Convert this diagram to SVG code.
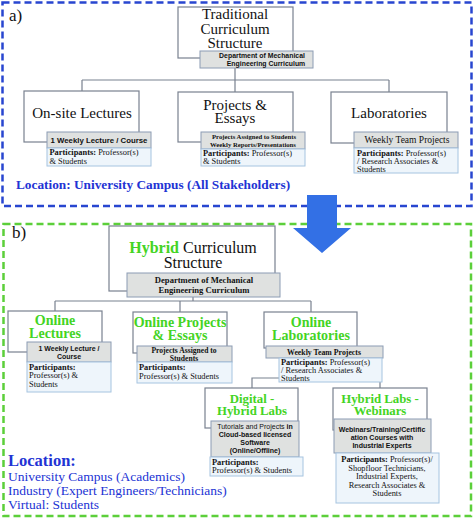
<svg xmlns="http://www.w3.org/2000/svg" width="474" height="519" viewBox="0 0 474 519">
<style>
.node{fill:#fff;stroke:#79818f;stroke-width:1.2}
.hdr{fill:#dfe1e0;stroke:#8c9cb4;stroke-width:1}
.body{fill:#eef5fb;stroke:#a6c4e0;stroke-width:1}
.conn{fill:none;stroke:#79818f;stroke-width:1.2}
.serif{font-family:"Liberation Serif","Times New Roman",serif;fill:#111}
.sans{font-family:"Liberation Sans",Arial,sans-serif;fill:#111}
.title{font-size:15px;text-anchor:middle}
.green{font-family:"Liberation Serif","Times New Roman",serif;font-weight:bold;fill:#44d424;text-anchor:middle}
.blue{font-family:"Liberation Serif","Times New Roman",serif;fill:#2233d4}
.small{font-size:8.4px}
.b{font-weight:bold}
.mid{text-anchor:middle}
</style>

<!-- Section a border -->
<rect x="2.5" y="2.5" width="469" height="203.5" fill="none" stroke="#2846d0" stroke-width="2.5" stroke-dasharray="7 4"/>
<!-- Section b border -->
<rect x="3.5" y="224" width="467.5" height="292" fill="none" stroke="#5ccf3a" stroke-width="2.5" stroke-dasharray="7 4"/>

<text class="serif" x="9" y="21" font-size="17">a)</text>
<text class="serif" x="12" y="238" font-size="17">b)</text>

<g id="connectors">
  <path class="conn" d="M235 68V80M82 80H389M82 80V91M235 80V92M389 80V92"/>
  <path class="conn" d="M193 297V301M55 301H311M55 301V311M180 301V312M311 301V312"/>
  <path class="conn" d="M252 388V378H380V388"/>
</g>

<!-- Section a nodes -->
<g id="traditional">
  <rect class="node" x="178" y="7" width="115" height="51"/>
  <text class="serif title" x="235" y="19">Traditional</text>
  <text class="serif title" x="235" y="34">Curriculum</text>
  <text class="serif title" x="235" y="48">Structure</text>
  <rect class="hdr" x="200" y="51" width="113" height="17"/>
  <text class="sans b mid" x="262" y="58.3" font-size="6.9">Department of Mechanical</text>
  <text class="sans b mid" x="266" y="66" font-size="6.9">Engineering Curriculum</text>
</g>

<g id="onsite-lectures">
  <rect class="node" x="24" y="91" width="115" height="51"/>
  <text class="serif title" x="82" y="118">On-site Lectures</text>
  <rect class="hdr" x="47" y="132" width="104" height="16"/>
  <text class="sans b mid" x="99" y="143" font-size="7.8">1 Weekly Lecture / Course</text>
  <rect class="body" x="47" y="148" width="104" height="18"/>
  <text class="serif small" x="49.5" y="155.3"><tspan class="b">Participants:</tspan> Professor(s)</text>
  <text class="serif small" x="49.5" y="163.7">&amp; Students</text>
</g>

<g id="projects-essays">
  <rect class="node" x="178" y="92" width="115" height="50"/>
  <text class="serif title" x="235" y="110">Projects &amp;</text>
  <text class="serif title" x="235" y="123">Essays</text>
  <rect class="hdr" x="201" y="132" width="104" height="17"/>
  <text class="serif b mid" x="254" y="139.3" font-size="6.7">Projects Assigned to Students</text>
  <text class="serif b mid" x="253" y="147" font-size="6.7">Weekly Reports/Presentations</text>
  <rect class="body" x="201" y="149" width="104" height="17"/>
  <text class="serif small" x="203" y="156"><tspan class="b">Participants:</tspan> Professor(s)</text>
  <text class="serif small" x="203" y="164.3">&amp; Students</text>
</g>

<g id="laboratories">
  <rect class="node" x="331" y="92" width="116" height="51"/>
  <text class="serif title" x="389" y="118" font-size="15.5">Laboratories</text>
  <rect class="hdr" x="354" y="132" width="104" height="16"/>
  <text class="serif mid" x="407" y="143" font-size="9.5">Weekly Team Projects</text>
  <rect class="body" x="354" y="148" width="104" height="25"/>
  <text class="serif small" x="357" y="155.5"><tspan class="b">Participants:</tspan> Professor(s)</text>
  <text class="serif small" x="357" y="163.6">/ Research Associates  &amp;</text>
  <text class="serif small" x="357" y="171.7">Students</text>
</g>

<text class="blue b" x="16" y="189" font-size="13.3">Location: University Campus (All Stakeholders)</text>

<!-- Arrow -->
<polygon points="307,195 337,195 337,228 351,228 322,253 293,228 307,228" fill="#3370e5"/>

<!-- Section b nodes -->
<g id="hybrid">
  <rect class="node" x="109" y="226" width="166" height="65"/>
  <text class="serif mid" x="193" y="253" font-size="16"><tspan class="b" fill="#44d424">Hybrid</tspan> Curriculum</text>
  <text class="serif mid" x="193" y="267.5" font-size="16">Structure</text>
  <rect class="hdr" x="127" y="273" width="153" height="24"/>
  <text class="serif b mid" x="204" y="283.3" font-size="8.6">Department of Mechanical</text>
  <text class="serif b mid" x="204" y="292.7" font-size="8.6">Engineering Curriculum</text>
</g>

<g id="online-lectures">
  <rect class="node" x="8" y="311" width="94" height="41"/>
  <text class="green" x="55" y="325" font-size="14">Online</text>
  <text class="green" x="55" y="337.5" font-size="14">Lectures</text>
  <rect class="hdr" x="27" y="342" width="84" height="20"/>
  <text class="sans b mid" x="69" y="350.5" font-size="7">1 Weekly Lecture /</text>
  <text class="sans b mid" x="69" y="358.7" font-size="7">Course</text>
  <rect class="body" x="27" y="362" width="84" height="30"/>
  <text class="serif small b" x="29" y="370">Participants:</text>
  <text class="serif small" x="29" y="378.3">Professor(s) &amp;</text>
  <text class="serif small" x="29" y="386.6">Students</text>
</g>

<g id="online-projects">
  <rect class="node" x="133" y="312" width="94" height="41"/>
  <text class="green" x="180" y="327" font-size="14">Online Projects</text>
  <text class="green" x="180" y="339.5" font-size="14">&amp; Essays</text>
  <rect class="hdr" x="137" y="346" width="95" height="16"/>
  <text class="serif b mid" x="184" y="353" font-size="7.6">Projects Assigned to</text>
  <text class="serif b mid" x="184" y="360.6" font-size="7.6">Students</text>
  <rect class="body" x="137" y="362" width="95" height="21"/>
  <text class="serif small b" x="139" y="370">Participants:</text>
  <text class="serif small" x="139" y="378.6">Professor(s) &amp; Students</text>
</g>

<g id="online-labs">
  <rect class="node" x="264" y="312" width="93" height="36"/>
  <text class="green" x="311" y="327" font-size="14">Online</text>
  <text class="green" x="311" y="339.5" font-size="14">Laboratories</text>
  <rect class="hdr" x="266" y="346" width="117" height="12"/>
  <text class="serif b mid" x="324" y="355" font-size="7.8">Weekly Team Projects</text>
  <rect class="body" x="279" y="358" width="103" height="24"/>
  <text class="serif small" x="281" y="364.5"><tspan class="b">Participants:</tspan> Professor(s)</text>
  <text class="serif small" x="281" y="372.5">/ Research Associates  &amp;</text>
  <text class="serif small" x="281" y="380.5">Students</text>
</g>

<g id="digital-labs">
  <rect class="node" x="205" y="388" width="93" height="40"/>
  <text class="green" x="252" y="402.5" font-size="12.8">Digital -</text>
  <text class="green" x="252" y="414.5" font-size="12.8">Hybrid Labs</text>
  <rect class="hdr" x="211" y="421" width="88" height="36"/>
  <text class="sans mid" x="255" y="429" font-size="7">Tutorials and Projects <tspan class="b">in</tspan></text>
  <text class="sans b mid" x="255" y="437" font-size="7">Cloud-based licensed</text>
  <text class="sans b mid" x="255" y="445" font-size="7">Software</text>
  <text class="sans b mid" x="255" y="453" font-size="7">(Online/Offline)</text>
  <rect class="body" x="210" y="457" width="93" height="19"/>
  <text class="serif small b" x="212" y="464.5">Participants:</text>
  <text class="serif small" x="212" y="473">Professor(s) &amp; Students</text>
</g>

<g id="hybrid-webinars">
  <rect class="node" x="333" y="388" width="94" height="42"/>
  <text class="green" x="380" y="402.5" font-size="12.8">Hybrid Labs -</text>
  <text class="green" x="380" y="414.5" font-size="12.8">Webinars</text>
  <rect class="hdr" x="334" y="419" width="97" height="34"/>
  <text class="sans b mid" x="382" y="432" font-size="7">Webinars/Training/Certific</text>
  <text class="sans b mid" x="382" y="440" font-size="7">ation Courses with</text>
  <text class="sans b mid" x="382" y="448" font-size="7">Industrial Experts</text>
  <rect class="body" x="336" y="453" width="103" height="50"/>
  <text class="serif small mid" x="387" y="462"><tspan class="b">Participants:</tspan> Professor(s)/</text>
  <text class="serif small mid" x="387" y="470.5">Shopfloor Technicians,</text>
  <text class="serif small mid" x="387" y="479">Industrial Experts,</text>
  <text class="serif small mid" x="387" y="487.5">Research Associates  &amp;</text>
  <text class="serif small mid" x="387" y="496">Students</text>
</g>

<text class="blue b" x="8" y="466" font-size="16.5">Location:</text>
<text class="blue" x="8" y="481" font-size="13.5">University Campus (Academics)</text>
<text class="blue" x="8" y="495" font-size="13.5">Industry (Expert Engineers/Technicians)</text>
<text class="blue" x="8" y="508.5" font-size="13.5">Virtual: Students</text>
</svg>
